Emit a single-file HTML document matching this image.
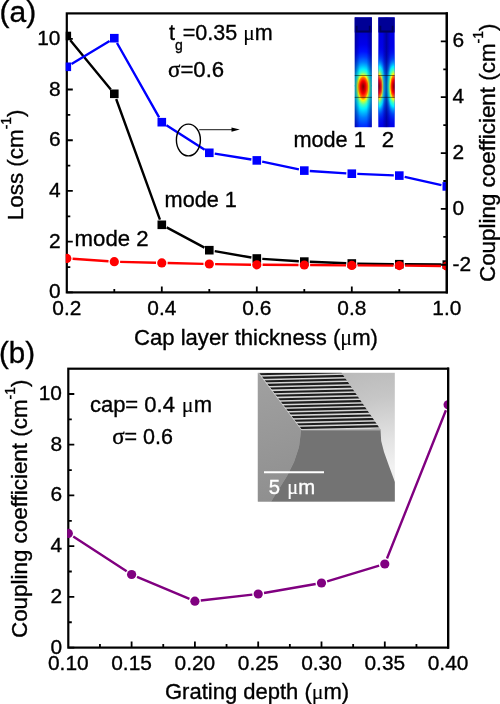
<!DOCTYPE html>
<html><head><meta charset="utf-8"><title>figure</title>
<style>html,body{margin:0;padding:0;background:#fff;}body{width:500px;height:704px;overflow:hidden;}svg{display:block;}</style>
</head><body>
<svg width="500" height="704" viewBox="0 0 500 704">
<defs>
<clipPath id="ca"><rect x="65.7" y="12.3" width="381.1" height="280.1"/></clipPath>
<clipPath id="cb"><rect x="67.2" y="367.6" width="380.9" height="280.0"/></clipPath>
</defs>
<rect x="66.80" y="13.40" width="380.00" height="279.00" fill="none" stroke="#000" stroke-width="2.2"/>
<path d="M66.80 292.40h6M66.80 267.04h3.5M66.80 241.68h6M66.80 216.32h3.5M66.80 190.96h6M66.80 165.60h3.5M66.80 140.24h6M66.80 114.88h3.5M66.80 89.52h6M66.80 64.16h3.5M66.80 38.80h6M114.30 292.40v-3.5M161.80 292.40v-6M209.30 292.40v-3.5M256.80 292.40v-6M304.30 292.40v-3.5M351.80 292.40v-6M399.30 292.40v-3.5" stroke="#000" stroke-width="1.8" fill="none"/>
<g clip-path="url(#ca)">
<path d="M70.29 40.25L110.81 89.55M116.17 98.97L159.93 219.63M166.65 227.39L204.45 247.61M214.72 251.15L251.38 257.55M262.29 258.86L298.81 261.24M309.80 261.82L346.30 263.28M357.30 263.58L393.80 264.12M404.80 264.25L441.30 264.55" stroke="#000" stroke-width="2.4" fill="none"/>
<rect x="62.50" y="31.70" width="8.6" height="8.6" fill="#000"/>
<rect x="110.00" y="89.50" width="8.6" height="8.6" fill="#000"/>
<rect x="157.50" y="220.50" width="8.6" height="8.6" fill="#000"/>
<rect x="205.00" y="245.90" width="8.6" height="8.6" fill="#000"/>
<rect x="252.50" y="254.20" width="8.6" height="8.6" fill="#000"/>
<rect x="300.00" y="257.30" width="8.6" height="8.6" fill="#000"/>
<rect x="347.50" y="259.20" width="8.6" height="8.6" fill="#000"/>
<rect x="395.00" y="259.90" width="8.6" height="8.6" fill="#000"/>
<rect x="442.50" y="260.30" width="8.6" height="8.6" fill="#000"/>
<path d="M72.59 258.80L108.51 261.30M120.10 261.85L156.00 262.75M167.60 263.03L203.50 263.87M215.10 264.10L251.00 264.70M262.60 264.82L298.50 264.98M310.10 265.05L346.00 265.35M357.60 265.42L393.50 265.58M405.10 265.65L441.00 265.95" stroke="#f00" stroke-width="2.4" fill="none"/>
<circle cx="66.80" cy="258.40" r="4.6" fill="#f00"/>
<circle cx="114.30" cy="261.70" r="4.6" fill="#f00"/>
<circle cx="161.80" cy="262.90" r="4.6" fill="#f00"/>
<circle cx="209.30" cy="264.00" r="4.6" fill="#f00"/>
<circle cx="256.80" cy="264.80" r="4.6" fill="#f00"/>
<circle cx="304.30" cy="265.00" r="4.6" fill="#f00"/>
<circle cx="351.80" cy="265.40" r="4.6" fill="#f00"/>
<circle cx="399.30" cy="265.60" r="4.6" fill="#f00"/>
<circle cx="446.80" cy="266.00" r="4.6" fill="#f00"/>
<path d="M71.51 63.96L109.59 41.04M117.01 42.99L159.09 117.41M166.42 125.18L204.68 149.82M214.73 153.67L251.37 159.53M262.18 161.55L298.92 169.45M309.79 170.96L346.31 173.34M357.30 173.92L393.80 175.38M404.66 176.82L441.44 185.18" stroke="#00f" stroke-width="2.4" fill="none"/>
<rect x="62.50" y="62.50" width="8.6" height="8.6" fill="#00f"/>
<rect x="110.00" y="33.90" width="8.6" height="8.6" fill="#00f"/>
<rect x="157.50" y="117.90" width="8.6" height="8.6" fill="#00f"/>
<rect x="205.00" y="148.50" width="8.6" height="8.6" fill="#00f"/>
<rect x="252.50" y="156.10" width="8.6" height="8.6" fill="#00f"/>
<rect x="300.00" y="166.30" width="8.6" height="8.6" fill="#00f"/>
<rect x="347.50" y="169.40" width="8.6" height="8.6" fill="#00f"/>
<rect x="395.00" y="171.30" width="8.6" height="8.6" fill="#00f"/>
<rect x="442.50" y="182.10" width="8.6" height="8.6" fill="#00f"/>
</g>
<path d="M446.80 12.30V293.50" stroke="#000" stroke-width="2.2" fill="none"/>
<path d="M446.80 264.74h-6M446.80 236.82h-3.5M446.80 208.90h-6M446.80 180.98h-3.5M446.80 153.06h-6M446.80 125.14h-3.5M446.80 97.22h-6M446.80 69.30h-3.5M446.80 41.38h-6" stroke="#000" stroke-width="1.8" fill="none"/>
<rect x="68.30" y="368.70" width="379.80" height="278.90" fill="none" stroke="#000" stroke-width="2.2"/>
<path d="M68.30 647.60h6M68.30 622.24h3.5M68.30 596.88h6M68.30 571.52h3.5M68.30 546.16h6M68.30 520.80h3.5M68.30 495.44h6M68.30 470.08h3.5M68.30 444.72h6M68.30 419.36h3.5M68.30 394.00h6M99.95 647.60v-3.5M131.60 647.60v-6M163.25 647.60v-3.5M194.90 647.60v-6M226.55 647.60v-3.5M258.20 647.60v-6M289.85 647.60v-3.5M321.50 647.60v-6M353.15 647.60v-3.5M384.80 647.60v-6M416.45 647.60v-3.5" stroke="#000" stroke-width="1.8" fill="none"/>
<g clip-path="url(#cb)">
<path d="M73.25 536.61L126.65 571.29M137.04 576.79L189.46 598.91M200.76 600.53L252.34 594.67M264.01 592.99L315.69 584.01M327.15 581.30L379.15 565.70M386.98 558.52L445.92 410.28" stroke="#800080" stroke-width="2.4" fill="none"/>
<circle cx="68.30" cy="533.40" r="4.6" fill="#800080"/>
<circle cx="131.60" cy="574.50" r="4.6" fill="#800080"/>
<circle cx="194.90" cy="601.20" r="4.6" fill="#800080"/>
<circle cx="258.20" cy="594.00" r="4.6" fill="#800080"/>
<circle cx="321.50" cy="583.00" r="4.6" fill="#800080"/>
<circle cx="384.80" cy="564.00" r="4.6" fill="#800080"/>
<circle cx="448.10" cy="404.80" r="4.6" fill="#800080"/>
</g>
<path d="M448.10 367.60V648.70" stroke="#000" stroke-width="2.2" fill="none"/>
<g font-family='"Liberation Sans", Arial, sans-serif' fill="#000" stroke="#000" stroke-width="0.35">
<text x="-0.50" y="21.80" font-size="30" text-anchor="start" >(a)</text>
<text x="-1.00" y="362.50" font-size="29.5" text-anchor="start" >(b)</text>
<text x="60.50" y="298.40" font-size="20.9" text-anchor="end" >0</text>
<text x="60.50" y="247.68" font-size="20.9" text-anchor="end" >2</text>
<text x="60.50" y="196.96" font-size="20.9" text-anchor="end" >4</text>
<text x="60.50" y="146.24" font-size="20.9" text-anchor="end" >6</text>
<text x="60.50" y="95.52" font-size="20.9" text-anchor="end" >8</text>
<text x="60.50" y="44.80" font-size="20.9" text-anchor="end" >10</text>
<text x="452.50" y="270.74" font-size="20.9" text-anchor="start" >-2</text>
<text x="452.50" y="214.90" font-size="20.9" text-anchor="start" >0</text>
<text x="452.50" y="159.06" font-size="20.9" text-anchor="start" >2</text>
<text x="452.50" y="103.22" font-size="20.9" text-anchor="start" >4</text>
<text x="452.50" y="47.38" font-size="20.9" text-anchor="start" >6</text>
<text x="66.80" y="315.30" font-size="20.9" text-anchor="middle" >0.2</text>
<text x="161.80" y="315.30" font-size="20.9" text-anchor="middle" >0.4</text>
<text x="256.80" y="315.30" font-size="20.9" text-anchor="middle" >0.6</text>
<text x="351.80" y="315.30" font-size="20.9" text-anchor="middle" >0.8</text>
<text x="446.80" y="315.30" font-size="20.9" text-anchor="middle" >1.0</text>
<text x="134.00" y="344.60" font-size="22.1" text-anchor="start" >Cap layer thickness (<tspan font-family="&apos;Liberation Serif&apos;, serif" stroke-width="0.1">&#956;</tspan>m)</text>
<text transform="translate(23.2,220.2) rotate(-90)" font-size="22.4">Loss (cm<tspan dy="-12" font-size="14">-1</tspan><tspan dy="12">)</tspan></text>
<text transform="translate(495.0,282.0) rotate(-90)" font-size="22.4">Coupling coefficient (cm<tspan dy="-12" font-size="14">-1</tspan><tspan dy="12">)</tspan></text>
<text x="169.00" y="40.40" font-size="21.5" text-anchor="start" >t<tspan dy="10" font-size="14">g</tspan><tspan dy="-10">=0.35 <tspan font-family="&apos;Liberation Serif&apos;, serif" stroke-width="0.1">&#956;</tspan>m</tspan></text>
<text x="168.00" y="76.80" font-size="22.2" text-anchor="start" ><tspan font-family="&apos;Liberation Serif&apos;, serif" font-size="23">&#963;</tspan>=0.6</text>
<text x="164.60" y="207.40" font-size="21.7" text-anchor="start" >mode 1</text>
<text x="74.60" y="246.40" font-size="22.2" text-anchor="start" >mode 2</text>
<text x="293.40" y="147.10" font-size="21.7" text-anchor="start" >mode 1</text>
<text x="381.80" y="147.10" font-size="22.2" text-anchor="start" >2</text>
<text x="62.00" y="653.60" font-size="20.9" text-anchor="end" >0</text>
<text x="62.00" y="602.88" font-size="20.9" text-anchor="end" >2</text>
<text x="62.00" y="552.16" font-size="20.9" text-anchor="end" >4</text>
<text x="62.00" y="501.44" font-size="20.9" text-anchor="end" >6</text>
<text x="62.00" y="450.72" font-size="20.9" text-anchor="end" >8</text>
<text x="62.00" y="400.00" font-size="20.9" text-anchor="end" >10</text>
<text x="68.30" y="670.20" font-size="20.9" text-anchor="middle" >0.10</text>
<text x="131.60" y="670.20" font-size="20.9" text-anchor="middle" >0.15</text>
<text x="194.90" y="670.20" font-size="20.9" text-anchor="middle" >0.20</text>
<text x="258.20" y="670.20" font-size="20.9" text-anchor="middle" >0.25</text>
<text x="321.50" y="670.20" font-size="20.9" text-anchor="middle" >0.30</text>
<text x="384.80" y="670.20" font-size="20.9" text-anchor="middle" >0.35</text>
<text x="448.10" y="670.20" font-size="20.9" text-anchor="middle" >0.40</text>
<text x="165.00" y="699.40" font-size="22.0" text-anchor="start" >Grating depth (<tspan font-family="&apos;Liberation Serif&apos;, serif" stroke-width="0.1">&#956;</tspan>m)</text>
<text transform="translate(27.3,638.0) rotate(-90)" font-size="22.4">Coupling coefficient (cm<tspan dy="-12" font-size="14">-1</tspan><tspan dy="12">)</tspan></text>
<text x="89.90" y="412.40" font-size="22" text-anchor="start" >cap= 0.4 <tspan dx="0.8" font-family="&apos;Liberation Serif&apos;, serif" stroke-width="0.1">&#956;</tspan>m</text>
<text x="112.20" y="444.40" font-size="21.5" text-anchor="start" ><tspan font-family="&apos;Liberation Serif&apos;, serif" font-size="23">&#963;</tspan>= 0.6</text>
</g>
<defs>
<radialGradient id="g1" gradientUnits="userSpaceOnUse" cx="363.2" cy="86.5" r="60.0" gradientTransform="translate(363.2 86.5) scale(0.44 0.88) translate(-363.2 -86.5)"><stop offset="0.000" stop-color="#800000" stop-opacity="1.00"/><stop offset="0.050" stop-color="#b30000" stop-opacity="1.00"/><stop offset="0.108" stop-color="#fa0000" stop-opacity="1.00"/><stop offset="0.172" stop-color="#ff7500" stop-opacity="1.00"/><stop offset="0.205" stop-color="#fffa00" stop-opacity="1.00"/><stop offset="0.242" stop-color="#94ff6b" stop-opacity="1.00"/><stop offset="0.275" stop-color="#42ffbd" stop-opacity="1.00"/><stop offset="0.333" stop-color="#00f0ff" stop-opacity="1.00"/><stop offset="0.400" stop-color="#00b3ff" stop-opacity="1.00"/><stop offset="0.467" stop-color="#007aff" stop-opacity="1.00"/><stop offset="0.567" stop-color="#003dff" stop-opacity="1.00"/><stop offset="0.667" stop-color="#000fff" stop-opacity="1.00"/><stop offset="0.800" stop-color="#0000eb" stop-opacity="1.00"/><stop offset="1.000" stop-color="#0000d6" stop-opacity="1.00"/></radialGradient>
<radialGradient id="g1d" gradientUnits="userSpaceOnUse" cx="363.2" cy="86.5" r="60.0" gradientTransform="translate(363.2 86.5) scale(0.44 1.12) translate(-363.2 -86.5)"><stop offset="0.000" stop-color="#800000" stop-opacity="1.00"/><stop offset="0.050" stop-color="#b30000" stop-opacity="1.00"/><stop offset="0.108" stop-color="#fa0000" stop-opacity="1.00"/><stop offset="0.172" stop-color="#ff7500" stop-opacity="1.00"/><stop offset="0.205" stop-color="#fffa00" stop-opacity="1.00"/><stop offset="0.242" stop-color="#94ff6b" stop-opacity="1.00"/><stop offset="0.275" stop-color="#42ffbd" stop-opacity="1.00"/><stop offset="0.333" stop-color="#00f0ff" stop-opacity="1.00"/><stop offset="0.400" stop-color="#00b3ff" stop-opacity="1.00"/><stop offset="0.467" stop-color="#007aff" stop-opacity="1.00"/><stop offset="0.567" stop-color="#003dff" stop-opacity="1.00"/><stop offset="0.667" stop-color="#000fff" stop-opacity="1.00"/><stop offset="0.800" stop-color="#0000eb" stop-opacity="1.00"/><stop offset="1.000" stop-color="#0000d6" stop-opacity="1.00"/></radialGradient>
<radialGradient id="g2a" gradientUnits="userSpaceOnUse" cx="378.8" cy="86.5" r="60.0" gradientTransform="translate(378.8 86.5) scale(0.31 1) translate(-378.8 -86.5)"><stop offset="0.000" stop-color="#800000" stop-opacity="1.00"/><stop offset="0.050" stop-color="#b30000" stop-opacity="1.00"/><stop offset="0.108" stop-color="#fa0000" stop-opacity="1.00"/><stop offset="0.172" stop-color="#ff7500" stop-opacity="1.00"/><stop offset="0.205" stop-color="#fffa00" stop-opacity="1.00"/><stop offset="0.242" stop-color="#94ff6b" stop-opacity="1.00"/><stop offset="0.275" stop-color="#42ffbd" stop-opacity="1.00"/><stop offset="0.333" stop-color="#00f0ff" stop-opacity="1.00"/><stop offset="0.400" stop-color="#00b3ff" stop-opacity="0.77"/><stop offset="0.467" stop-color="#007aff" stop-opacity="0.56"/><stop offset="0.567" stop-color="#003dff" stop-opacity="0.33"/><stop offset="0.667" stop-color="#000fff" stop-opacity="0.15"/><stop offset="0.800" stop-color="#0000eb" stop-opacity="0.02"/><stop offset="1.000" stop-color="#0000d6" stop-opacity="0.00"/></radialGradient>
<radialGradient id="g2b" gradientUnits="userSpaceOnUse" cx="393.9" cy="86.5" r="60.0" gradientTransform="translate(393.9 86.5) scale(0.31 1) translate(-393.9 -86.5)"><stop offset="0.000" stop-color="#800000" stop-opacity="1.00"/><stop offset="0.050" stop-color="#b30000" stop-opacity="1.00"/><stop offset="0.108" stop-color="#fa0000" stop-opacity="1.00"/><stop offset="0.172" stop-color="#ff7500" stop-opacity="1.00"/><stop offset="0.205" stop-color="#fffa00" stop-opacity="1.00"/><stop offset="0.242" stop-color="#94ff6b" stop-opacity="1.00"/><stop offset="0.275" stop-color="#42ffbd" stop-opacity="1.00"/><stop offset="0.333" stop-color="#00f0ff" stop-opacity="1.00"/><stop offset="0.400" stop-color="#00b3ff" stop-opacity="0.77"/><stop offset="0.467" stop-color="#007aff" stop-opacity="0.56"/><stop offset="0.567" stop-color="#003dff" stop-opacity="0.33"/><stop offset="0.667" stop-color="#000fff" stop-opacity="0.15"/><stop offset="0.800" stop-color="#0000eb" stop-opacity="0.02"/><stop offset="1.000" stop-color="#0000d6" stop-opacity="0.00"/></radialGradient>
<clipPath id="cm1"><rect x="354.5" y="17.2" width="17.40" height="110.20"/></clipPath>
<clipPath id="cm2"><rect x="378.2" y="17.2" width="16.60" height="110.20"/></clipPath>
<linearGradient id="edk" x1="0" y1="0" x2="1" y2="0"><stop offset="0" stop-color="#000050" stop-opacity="0.45"/><stop offset="0.3" stop-color="#000050" stop-opacity="0"/><stop offset="0.7" stop-color="#000050" stop-opacity="0"/><stop offset="1" stop-color="#000050" stop-opacity="0.45"/></linearGradient>
<linearGradient id="cdk" x1="0" y1="0" x2="1" y2="0"><stop offset="0.25" stop-color="#000050" stop-opacity="0"/><stop offset="0.5" stop-color="#000050" stop-opacity="0.45"/><stop offset="0.75" stop-color="#000050" stop-opacity="0"/></linearGradient>
</defs>
<g clip-path="url(#cm1)">
<rect x="354.5" y="85.0" width="17.40" height="42.40" fill="url(#g1d)"/>
<rect x="354.5" y="17.2" width="17.40" height="69.30" fill="url(#g1)"/>
<rect x="354.5" y="17.2" width="17.40" height="110.20" fill="url(#edk)"/>
<rect x="354.5" y="17.2" width="17.40" height="15.3" fill="#000096"/>
<path d="M356.7 25.7V31.5H369.7V25.7" stroke="#000048" stroke-width="1.8" fill="none" opacity="0.75"/>
<path d="M354.5 75.5H371.9M354.5 97.4H371.9" stroke="#101010" stroke-width="0.9" opacity="0.6"/>
</g>
<g clip-path="url(#cm2)">
<rect x="378.2" y="17.2" width="16.60" height="110.20" fill="#0000e6"/>
<rect x="378.2" y="17.2" width="16.60" height="110.20" fill="url(#g2a)"/>
<rect x="378.2" y="17.2" width="16.60" height="110.20" fill="url(#g2b)"/>
<rect x="378.2" y="17.2" width="16.60" height="110.20" fill="url(#cdk)"/>
<rect x="378.2" y="17.2" width="16.60" height="15.3" fill="#000096"/>
<path d="M380.4 25.7V31.5H392.6V25.7" stroke="#000048" stroke-width="1.8" fill="none" opacity="0.75"/>
<path d="M378.2 75.5H394.8M378.2 97.4H394.8" stroke="#101010" stroke-width="0.9" opacity="0.6"/>
</g>
<ellipse cx="188.4" cy="140.0" rx="12.0" ry="15.9" fill="none" stroke="#000" stroke-width="1.4"/>
<path d="M199.2 129.6H233" stroke="#444" stroke-width="1.1"/>
<path d="M231.5 127.4L239.8 129.6L231.5 131.8Z" fill="#000"/>
<defs>
<clipPath id="csem"><rect x="257.6" y="372.6" width="137.3" height="129.2"/></clipPath>
<clipPath id="cgr"><path d="M258.5 372.8H341.5L380.5 429.6H301.2Z"/></clipPath>
<radialGradient id="sembg" gradientUnits="userSpaceOnUse" cx="392" cy="468" r="120"><stop offset="0" stop-color="#f2f2f2"/><stop offset="0.25" stop-color="#e2e2e2"/><stop offset="0.6" stop-color="#c6c6c6"/><stop offset="1" stop-color="#b4b4b4"/></radialGradient>
<linearGradient id="semside" gradientUnits="userSpaceOnUse" x1="258" y1="380" x2="300" y2="500"><stop offset="0" stop-color="#a0a0a0"/><stop offset="1" stop-color="#8e8e8e"/></linearGradient>
</defs>
<g clip-path="url(#csem)">
<rect x="257.6" y="372.6" width="137.3" height="129.2" fill="url(#sembg)"/>
<path d="M257.6 372.6L301.2 429.5L299 447L294 462L287 476L271 501.8H257.6Z" fill="url(#semside)"/>
<path d="M301.2 429.5H380.5L381.2 441L384 452L389 466L394.9 482V501.8H271L287 476L294 462L299 447Z" fill="#737373"/>
<g clip-path="url(#cgr)">
<rect x="258" y="372" width="124" height="58" fill="#d6d6d6"/>
<path d="M250 374.40L390 371.30M250 378.04L390 374.94M250 381.68L390 378.58M250 385.32L390 382.22M250 388.96L390 385.86M250 392.61L390 389.51M250 396.25L390 393.15M250 399.89L390 396.79M250 403.53L390 400.43M250 407.17L390 404.07M250 410.81L390 407.71M250 414.45L390 411.35M250 418.09L390 414.99M250 421.73L390 418.63M250 425.37L390 422.27M250 429.02L390 425.92M250 432.66L390 429.56M250 436.30L390 433.20" stroke="#1e1e1e" stroke-width="2.1"/>
</g>
<path d="M259 373.2L301.6 429.8H380.5" stroke="#d8d8d8" stroke-width="1" fill="none" opacity="0.8"/>
</g>
<path d="M264 472.2H324" stroke="#fff" stroke-width="2"/>
<text x="268.8" y="494.3" font-family='"Liberation Sans", Arial, sans-serif' font-size="20.3" fill="#fff" stroke="#fff" stroke-width="0.4">5 <tspan dx="1.6" font-family="&apos;Liberation Serif&apos;, serif" stroke-width="0.15">&#956;</tspan>m</text>
</svg>
</body></html>
